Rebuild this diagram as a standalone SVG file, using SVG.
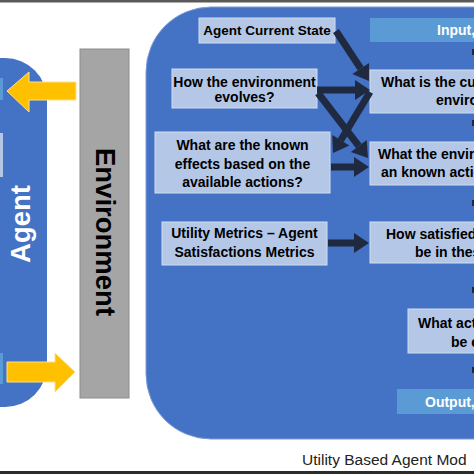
<svg xmlns="http://www.w3.org/2000/svg" width="474" height="474" viewBox="0 0 474 474">
<defs>
<style>
.panel{fill:#4472C4;}
.box{fill:#B4C7E7;stroke:#D3DDF0;stroke-width:1;}
.io{fill:#5B9BD5;}
.t{font-family:"Liberation Sans",Arial,sans-serif;font-weight:bold;font-size:14px;fill:#000;}
.tc{text-anchor:middle;}
.w{fill:#fff;}
.yarrow{fill:#FFC000;stroke:#FFE08A;stroke-width:1;}
.conn{stroke:#1F2A40;stroke-width:7;fill:none;marker-end:url(#ah);}
</style>
<marker id="ah" markerUnits="userSpaceOnUse" markerWidth="16" markerHeight="20" refX="0" refY="10" orient="auto" viewBox="0 0 16 20" overflow="visible">
<path d="M0,0 L15,10 L0,20 z" fill="#1F2A40"/>
</marker>
</defs>
<rect x="0" y="0" width="474" height="474" fill="#fff"/>
<rect x="0" y="0" width="474" height="2.5" fill="#5a5a5a"/>
<rect x="0" y="471" width="474" height="3" fill="#2b2b2b"/>

<g id="agent">
<rect class="panel" x="-100" y="58" width="147" height="349" rx="42"/>
<rect x="0" y="78" width="3" height="22" fill="#5B9BD5"/>
<rect x="0" y="133" width="3" height="44" fill="#B4C7E7"/>
<rect x="0" y="353" width="3" height="31" fill="#5B9BD5"/>
<text class="t tc w" style="font-size:27.5px" transform="translate(30,224) rotate(-90)">Agent</text>
</g>

<g id="yellow-arrows">
<polygon class="yarrow" points="7,91 29,72 29,82 76,82 76,100 29,100 29,112"/>
<polygon class="yarrow" points="7,362 55,362 55,353 75,372 55,392 55,382 7,382"/>
</g>

<g id="environment">
<rect x="80" y="49" width="49" height="349" fill="#A5A5A5" stroke="#8C8C8C" stroke-width="1"/>
<text class="t tc" style="font-size:27.5px" transform="translate(95.5,232) rotate(90)">Environment</text>
</g>

<g id="model-panel">
<rect class="panel" x="146" y="7" width="400" height="432" rx="65" stroke="#7E9BD6" stroke-width="1"/>
</g>

<g id="agent-current-state">
<rect class="box" x="199" y="18" width="136" height="25"/>
<text class="t tc" style="font-size:13.5px" x="267" y="35">Agent Current State</text>
</g>
<g id="how-env-evolves">
<rect class="box" x="172" y="69" width="145" height="39"/>
<text class="t tc" x="244.5" y="87">How the environment</text>
<text class="t tc" x="244.5" y="102">evolves?</text>
</g>
<g id="known-effects">
<rect class="box" x="155" y="132" width="175" height="61"/>
<text class="t tc" x="242.5" y="150">What are the known</text>
<text class="t tc" x="242.5" y="168.5">effects based on the</text>
<text class="t tc" x="242.5" y="187">available actions?</text>
</g>
<g id="utility-metrics">
<rect class="box" x="162" y="222" width="165" height="43"/>
<text class="t tc" x="244.5" y="238">Utility Metrics – Agent</text>
<text class="t tc" x="244.5" y="257">Satisfactions Metrics</text>
</g>

<g id="input">
<rect class="io" x="370" y="18" width="110" height="24"/>
<text class="t w" x="437" y="35">Input,</text>
</g>
<g id="current-env">
<rect class="box" x="370" y="70" width="110" height="43"/>
<text class="t" x="381" y="87">What is the cu</text>
<text class="t" x="436" y="105">enviro</text>
</g>
<g id="env-after-action">
<rect class="box" x="370" y="142" width="110" height="43"/>
<text class="t" x="378" y="159">What the envir</text>
<text class="t" x="381" y="177">an known actio</text>
</g>
<g id="how-satisfied">
<rect class="box" x="370" y="222" width="110" height="41"/>
<text class="t" x="386" y="239">How satisfied</text>
<text class="t" x="415" y="257">be in thes</text>
</g>
<g id="what-action">
<rect class="box" x="408" y="309" width="72" height="44"/>
<text class="t" x="418" y="328">What act</text>
<text class="t" x="451" y="347">be e</text>
</g>
<g id="output">
<rect class="io" x="397" y="389" width="83" height="25"/>
<text class="t w" x="425" y="407">Output,</text>
</g>

<g id="connectors">
<line class="conn" x1="336" y1="31" x2="360.7" y2="68.5"/>
<line class="conn" x1="317" y1="90" x2="355" y2="90"/>
<line class="conn" x1="318" y1="93" x2="358.8" y2="146"/>
<line class="conn" x1="370" y1="92" x2="340.8" y2="140.2"/>
<line class="conn" x1="331" y1="167" x2="354" y2="167"/>
<line class="conn" x1="328" y1="243" x2="354" y2="243"/>
<rect x="472" y="49" width="2" height="6" fill="#1F2A40"/>
<rect x="472" y="120" width="2" height="6" fill="#1F2A40"/>
<rect x="472" y="200" width="2" height="6" fill="#1F2A40"/>
<rect x="472" y="287" width="2" height="6" fill="#1F2A40"/>
<rect x="472" y="367" width="2" height="6" fill="#1F2A40"/>
</g>

<g id="caption">
<text x="302" y="465" style="font-family:'Liberation Sans',Arial,sans-serif;font-size:15.5px;fill:#222">Utility Based Agent Mod</text>
</g>
</svg>
